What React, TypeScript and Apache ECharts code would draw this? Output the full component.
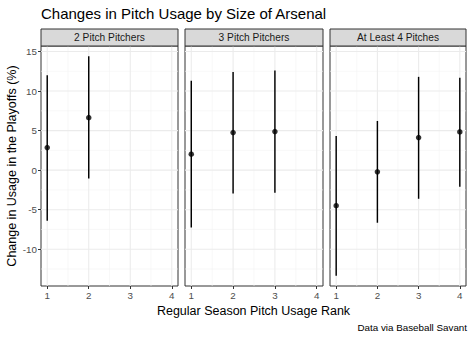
import React, { useEffect, useRef } from "react";
import * as echarts from "echarts";

const panelTitles = ["2 Pitch Pitchers", "3 Pitch Pitchers", "At Least 4 Pitches"];

const ranks2 = [1, 2];
const mean2 = [2.85, 6.64];
const lo2 = [-6.4, -1.06];
const hi2 = [12.0, 14.4];

const ranks3 = [1, 2, 3];
const mean3 = [2.02, 4.75, 4.88];
const lo3 = [-7.25, -2.95, -2.87];
const hi3 = [11.3, 12.4, 12.6];

const ranks4 = [1, 2, 3, 4];
const mean4 = [-4.5, -0.21, 4.12, 4.84];
const lo4 = [-13.35, -6.65, -3.62, -2.1];
const hi4 = [4.33, 6.22, 11.8, 11.7];

const xTicks = [1, 2, 3, 4];
const xMinor = [1.5, 2.5, 3.5];
const yTicks = [-10, -5, 0, 5, 10, 15];
const yMinor = [-12.5, -7.5, -2.5, 2.5, 7.5, 12.5];

const X_MIN = 0.85;
const X_MAX = 4.15;
const Y_MIN = -14.65;
const Y_MAX = 15.7;

const FONT = "Liberation Sans, Arial, sans-serif";

export default function App() {
  const ref = useRef<HTMLDivElement>(null);
  useEffect(() => {
    document.body.style.margin = "0";
    const chart = echarts.init(ref.current!, null, { renderer: "svg" });
    const lefts = [41, 185, 330];
    const widths = [137, 138, 136];
    const top = 46;
    const height = 240;
    const panels = [
      { r: ranks2, m: mean2, lo: lo2, hi: hi2 },
      { r: ranks3, m: mean3, lo: lo3, hi: hi3 },
      { r: ranks4, m: mean4, lo: lo4, hi: hi4 },
    ];
    // gridline items: [x, y, kind] kind 0 = vertical major, 1 = vertical minor, 2 = horizontal major, 3 = horizontal minor
    const gridLineData: number[][] = [];
    xMinor.forEach((v) => gridLineData.push([v, Y_MIN, 1]));
    yMinor.forEach((v) => gridLineData.push([X_MIN, v, 3]));
    xTicks.forEach((v) => gridLineData.push([v, Y_MIN, 0]));
    yTicks.forEach((v) => gridLineData.push([X_MIN, v, 2]));

    const grids = panels.map((_, i) => ({
      left: lefts[i],
      top,
      width: widths[i],
      height,
      show: true,
      borderColor: "#333333",
      borderWidth: 1,
      backgroundColor: "#ffffff",
      z: 0,
    }));
    const xAxes = panels.map((_, i) => ({
      type: "value",
      gridIndex: i,
      position: "bottom",
      min: X_MIN,
      max: X_MAX,
      axisLine: { show: false, onZero: false },
      splitLine: { show: false },
      axisTick: {
        show: true,
        customValues: xTicks,
        length: 3,
        lineStyle: { color: "#333333", width: 1 },
      },
      axisLabel: {
        show: true,
        customValues: xTicks,
        color: "#4d4d4d",
        fontSize: 9.8,
        fontFamily: FONT,
        margin: 4,
      },
    }));
    const yAxes = panels.map((_, i) => ({
      type: "value",
      gridIndex: i,
      position: "left",
      min: Y_MIN,
      max: Y_MAX,
      axisLine: { show: false, onZero: false },
      splitLine: { show: false },
      axisTick: {
        show: i === 0,
        customValues: yTicks,
        length: 3,
        lineStyle: { color: "#333333", width: 1 },
      },
      axisLabel: {
        show: i === 0,
        customValues: yTicks,
        color: "#4d4d4d",
        fontSize: 9.8,
        fontFamily: FONT,
        margin: 4,
      },
    }));
    const series: any[] = [];
    panels.forEach((p, i) => {
      series.push({
        type: "custom",
        xAxisIndex: i,
        yAxisIndex: i,
        silent: true,
        z: 1,
        clip: true,
        data: gridLineData,
        renderItem: (params: any, api: any) => {
          const cs = params.coordSys;
          const kind = api.value(2);
          const major = kind === 0 || kind === 2;
          const style = {
            stroke: major ? "#ebebeb" : "#f3f3f3",
            lineWidth: major ? 1.07 : 0.6,
          };
          if (kind < 2) {
            const x = api.coord([api.value(0), api.value(1)])[0];
            return {
              type: "line",
              shape: { x1: x, y1: cs.y, x2: x, y2: cs.y + cs.height },
              style,
            };
          }
          const y = api.coord([api.value(0), api.value(1)])[1];
          return {
            type: "line",
            shape: { x1: cs.x, y1: y, x2: cs.x + cs.width, y2: y },
            style,
          };
        },
      });
      series.push({
        type: "custom",
        xAxisIndex: i,
        yAxisIndex: i,
        silent: true,
        z: 3,
        data: p.r.map((r, k) => [r, p.lo[k], p.hi[k]]),
        encode: { x: 0, y: [1, 2] },
        renderItem: (_params: any, api: any) => {
          const a = api.coord([api.value(0), api.value(1)]);
          const b = api.coord([api.value(0), api.value(2)]);
          return {
            type: "line",
            shape: { x1: a[0], y1: a[1], x2: b[0], y2: b[1] },
            style: { stroke: "#000000", lineWidth: 1.45 },
          };
        },
      });
      series.push({
        type: "scatter",
        xAxisIndex: i,
        yAxisIndex: i,
        z: 4,
        symbol: "circle",
        symbolSize: 5.5,
        itemStyle: { color: "#000000" },
        data: p.r.map((r, k) => [r, p.m[k]]),
      });
    });

    const graphics: any[] = [];
    panelTitles.forEach((t, i) => {
      graphics.push({
        type: "rect",
        shape: { x: lefts[i], y: 29, width: widths[i], height: 17 },
        style: { fill: "#d9d9d9", stroke: "#333333", lineWidth: 1 },
        z: 10,
      });
      graphics.push({
        type: "text",
        x: lefts[i] + widths[i] / 2,
        y: 37.5,
        style: {
          text: t,
          fill: "#1a1a1a",
          fontSize: 10.2,
          fontFamily: FONT,
          align: "center",
          verticalAlign: "middle",
        },
        z: 11,
      });
    });
    graphics.push({
      type: "text",
      x: 41,
      y: 13,
      style: {
        text: "Changes in Pitch Usage by Size of Arsenal",
        fill: "#000000",
        fontSize: 15,
        fontFamily: FONT,
        align: "left",
        verticalAlign: "middle",
      },
    });
    graphics.push({
      type: "text",
      x: 12,
      y: 166,
      rotation: Math.PI / 2,
      style: {
        text: "Change in Usage in the Playoffs (%)",
        fill: "#000000",
        fontSize: 12.5,
        fontFamily: FONT,
        align: "center",
        verticalAlign: "middle",
      },
    });
    graphics.push({
      type: "text",
      x: 253.5,
      y: 311,
      style: {
        text: "Regular Season Pitch Usage Rank",
        fill: "#000000",
        fontSize: 12.5,
        fontFamily: FONT,
        align: "center",
        verticalAlign: "middle",
      },
    });
    graphics.push({
      type: "text",
      x: 467,
      y: 327,
      style: {
        text: "Data via Baseball Savant",
        fill: "#000000",
        fontSize: 9.8,
        fontFamily: FONT,
        align: "right",
        verticalAlign: "middle",
      },
    });

    chart.setOption({
      animation: false,
      backgroundColor: "#ffffff",
      grid: grids,
      xAxis: xAxes,
      yAxis: yAxes,
      series,
      graphic: graphics,
    });
    return () => chart.dispose();
  }, []);
  return <div ref={ref} style={{ width: 474, height: 339 }} />;
}
